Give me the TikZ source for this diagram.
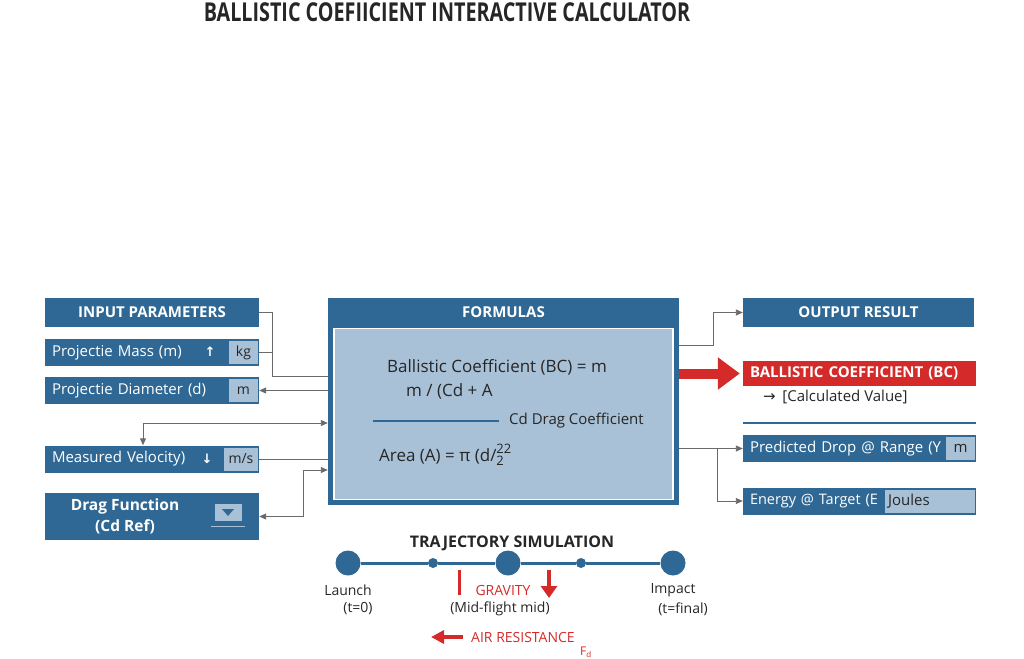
\documentclass[tikz,border=0pt]{standalone}
\usepackage{fontspec}
\setmainfont{Open Sans}
\newfontfamily\symfont{DejaVu Sans}
\usepackage{graphicx}
\usetikzlibrary{arrows.meta,calc}
\definecolor{bcblue}{HTML}{2F6894}
\definecolor{bclight}{HTML}{A9C1D7}
\definecolor{bcred}{HTML}{D42A2A}
\definecolor{wiregray}{HTML}{6A6A6A}
\definecolor{inktext}{HTML}{262626}
\newcommand{\fsz}[1]{\fontsize{#1}{#1}\selectfont}
\tikzset{
  hdrbox/.style={
    fill=bcblue,
    text=white,
    font=\bfseries\fsz{15},
    minimum height=29pt,
    inner sep=0pt
  },
  fieldbox/.style={
    fill=bcblue,
    text=white,
    font=\fsz{15},
    minimum width=214pt,
    minimum height=27pt,
    text width=200pt,
    align=left,
    inner xsep=7pt,
    inner ysep=0pt
  },
  unitbox/.style={
    fill=bclight,
    text=inktext,
    font=\fsz{14},
    minimum height=23pt,
    inner sep=0pt,
    anchor=east
  },
  wire/.style={
    draw=wiregray,
    line width=0.9pt
  },
  tip/.style={-{Triangle[length=7pt,width=6pt]}},
  tips/.style={{Triangle[length=7pt,width=6pt]}-{Triangle[length=7pt,width=6pt]}},
  formtxt/.style={
    text=inktext,
    font=\fsz{17},
    anchor=west,
    inner sep=0pt
  },
  bigdot/.style={
    shape=circle,
    fill=bcblue,
    minimum size=25pt,
    inner sep=0pt
  },
  smalldot/.style={
    shape=circle,
    fill=bcblue,
    minimum size=10pt,
    inner sep=0pt
  },
  lbl/.style={
    text=inktext,
    font=\fsz{14},
    inner sep=0pt
  },
  redlbl/.style={
    text=bcred,
    font=\fsz{14},
    inner sep=0pt
  }
}
\begin{document}
\begin{tikzpicture}[x=1pt,y=-1pt]
  \useasboundingbox (0,0) rectangle (1024,658);
  \node[font=\bfseries\fsz{26}, text=inktext] (title) at (447,12)
    {\scalebox{0.76}[1]{BALLISTIC COEFIICIENT INTERACTIVE CALCULATOR}};

  % inputs
  \node[hdrbox, minimum width=214pt] (inhdr) at (152,312.5) {INPUT PARAMETERS};
  \node[fieldbox] (mass) at (152,352.5) {Projectie Mass (m)};
  \node[unitbox, minimum width=29pt] (massu) at ($(mass.east)+(-1,0)$) {kg};
  \node[text=white, font=\symfont\bfseries\fsz{13}, inner sep=0pt] (massup) at (210,352) {↑};
  \node[fieldbox] (diam) at (152,390.5) {Projectie Diameter (d)};
  \node[unitbox, minimum width=29pt] (diamu) at ($(diam.east)+(-1,0)$) {m};
  \node[fieldbox] (velo) at (152,459) {Measured Velocity)};
  \node[unitbox, minimum width=34pt] (velou) at ($(velo.east)+(-1,0)$) {m/s};
  \node[text=white, font=\symfont\bfseries\fsz{13}, inner sep=0pt] (velodn) at (207,459) {↓};
  \node[fieldbox, minimum height=47pt] (drag) at (152,516.5) {};
  \node[text=white, font=\bfseries\fsz{15.5}, align=center, inner sep=0pt] (dragtxt) at (125,516.5)
    {Drag Function\\[5pt](Cd Ref)};
  \node[fill=bclight, minimum width=27pt, minimum height=17pt, inner sep=0pt] (dragicon) at (228,512) {};
  \fill[bcblue] ($(dragicon.center)+(-6,-3)$) -- ($(dragicon.center)+(6,-3)$) -- ($(dragicon.center)+(0,4)$) -- cycle;
  \draw[bclight, line width=1.3pt] ($(dragicon.south west)+(-3,6)$) -- ($(dragicon.south east)+(3,6)$);

  % formulas
  \node[fill=bcblue, minimum width=351pt, minimum height=207pt, inner sep=0pt] (fbox) at (503.5,401.5) {};
  \node[fill=bclight, draw=white, line width=1.5pt, minimum width=339pt, minimum height=171pt, inner sep=0pt] (fpanel) at (503.5,414) {};
  \node[text=white, font=\bfseries\fsz{15}] (fhdr) at (503.5,312.5) {FORMULAS};
  \node[formtxt] (bc) at (387,367) {Ballistic Coefficient (BC) = m};
  \node[formtxt] (bcden) at (406,391) {m / (Cd + A};
  \node[formtxt, font=\fsz{15}] (cdnote) at (509,421) {Cd Drag Coefficient};
  \draw[bcblue, line width=1.3pt] (373,421) -- ($(cdnote.west)+(-10,0)$);
  \node[formtxt] (area) at (379,455)
    {Area (A) = π (d/\rlap{\raisebox{-0.5ex}{\fsz{13}2}}\raisebox{0.8ex}{\fsz{13}22}};

  \coordinate (jin) at (272,376);
  \draw[wire] (inhdr.east) -| (jin) -- (jin -| fbox.west);
  \draw[wire] (mass.east) -- (mass.east -| jin);
  \draw[wire, tip] (fbox.west |- diam.east) -- (diam.east);
  \coordinate (jvel) at (143,423);
  \draw[wire, tips] (velo.north -| jvel) -- (jvel) -- (jvel -| fbox.west);
  \draw[wire] (velo.east) -- (velo.east -| fbox.west);
  \coordinate (jdrag) at (303,470);
  \draw[wire, tips] (drag.east) -| (jdrag) -- (jdrag -| fbox.west);

  % outputs
  \node[hdrbox, minimum width=231pt] (outhdr) at (858.5,312.5) {OUTPUT RESULT};
  \node[fill=bcred, text=white, font=\bfseries\fsz{15}, minimum width=233pt, minimum height=25pt,
    text width=219pt, align=left, inner xsep=7pt, inner ysep=0pt] (bcres) at (859.5,373.5) {BALLISTIC COEFFICIENT (BC)};
  \node[lbl, anchor=west, font=\fsz{15}] (calcval) at (763,397) {{\symfont →}\;\,[Calculated Value]};
  \draw[bcblue, line width=1.3pt] (743,423) -- (976,423);
  \node[fieldbox, minimum width=233pt, text width=219pt] (drop) at (859.5,448.5) {Predicted Drop @ Range (Y};
  \node[unitbox, minimum width=29pt, font=\fsz{15}] (dropu) at ($(drop.east)+(-1,0)$) {m};
  \node[fieldbox, minimum width=233pt, text width=219pt, font=\fsz{14.5}] (energy) at (859.5,501) {Energy @ Target (E};
  \node[unitbox, minimum width=90pt, text width=84pt, align=left, inner xsep=3pt, font=\fsz{15}] (energyu) at ($(energy.east)+(-1,0)$) {Joules};

  \coordinate (jout) at (713,345);
  \draw[wire, tip] (jout -| fbox.east) -- (jout) |- (outhdr.west);
  \draw[bcred, line width=10pt, -{Triangle[length=22pt,width=31pt]}, shorten >=3pt]
    (fbox.east |- bcres.west) -- (bcres.west);
  \coordinate (jen) at (717,448.5);
  \draw[wire, tip] (fbox.east |- drop.west) -- (drop.west);
  \draw[wire, tip] (jen) |- (energy.west);

  % trajectory
  \node[font=\bfseries\fsz{16}, text=inktext] (trajttl) at (512,543) {TRAJECTORY SIMULATION};
  \node[bigdot] (launch) at (348,563) {};
  \node[smalldot] (q1) at (433,563) {};
  \node[bigdot] (mid) at (508,563) {};
  \node[smalldot] (q2) at (581,563) {};
  \node[bigdot] (impact) at (673,563) {};
  \draw[bcblue, line width=3pt] (launch) -- (q1) -- (mid) -- (q2) -- (impact);
  \node[lbl] (launchl) at (348,590) {Launch};
  \node[lbl] (launcht) at (358,609) {(t=0)};
  \node[lbl] (impactl) at (673,590) {Impact};
  \node[lbl] (impactt) at (683,609) {(t=final)};
  \node[lbl] (midl) at (500,609) {(Mid-flight mid)};
  \node[redlbl] (grav) at (503,590) {GRAVITY};
  \draw[bcred, line width=3pt] (459,570) -- (459,595);
  \draw[bcred, line width=3.5pt, -{Triangle[length=12pt,width=16pt]}] (549,570) -- (549,598);
  \node[redlbl, anchor=west] (airres) at (471,637) {AIR RESISTANCE};
  \draw[bcred, line width=4pt, -{Triangle[length=13pt,width=13pt]}] ($(airres.west)+(-8,0)$) -- ++(-32,0);
  \node[redlbl, font=\fsz{12}] (fd) at (586,652) {F\textsubscript{d}};
\end{tikzpicture}
\end{document}
